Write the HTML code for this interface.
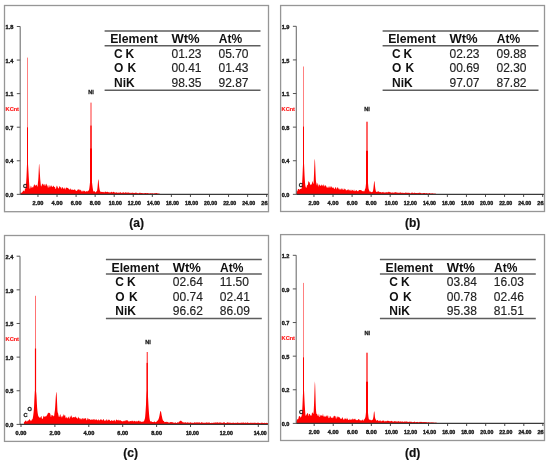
<!DOCTYPE html><html><head><meta charset="utf-8"><title>EDS spectra</title><style>
html,body{margin:0;padding:0;background:#fff;width:550px;height:465px;overflow:hidden}
svg{display:block}
.tl{font-family:'Liberation Sans',sans-serif;font-weight:bold;font-size:5.6px;fill:#222;stroke:#222;stroke-width:0.4px}
.pl{font-family:'Liberation Sans',sans-serif;font-weight:bold;font-size:5.6px;fill:#222;stroke:#222;stroke-width:0.3px}
.th{font-family:'Liberation Sans',sans-serif;font-weight:bold;font-size:12px;fill:#111}
.td{font-family:'Liberation Sans',sans-serif;font-weight:normal;font-size:12px;fill:#222;stroke:#222;stroke-width:0.15px}
.cap{font-family:'Liberation Sans',sans-serif;font-weight:bold;font-size:12px;fill:#111;stroke:#111;stroke-width:0.2px}
</style></head><body>
<svg width="550" height="465" viewBox="0 0 550 465">
<rect width="550" height="465" fill="#fff"/>
<clipPath id="clipa"><rect x="4.5" y="5.5" width="264.0" height="206.2"/></clipPath>
<g clip-path="url(#clipa)">
<path d="M20.20,194.35 L20.20,193.20 L20.45,192.94 L20.70,192.76 L20.95,192.65 L21.20,192.70 L21.45,192.81 L21.70,192.65 L21.95,192.41 L22.20,192.18 L22.45,191.96 L22.70,191.60 L22.95,191.18 L23.20,190.78 L23.45,190.37 L23.70,190.63 L23.95,191.14 L24.20,191.24 L24.45,191.20 L24.70,190.30 L24.95,189.05 L25.20,188.82 L25.45,188.57 L25.70,186.94 L25.95,184.14 L26.20,181.31 L26.45,177.60 L26.70,171.62 L26.95,165.27 L27.20,160.30 L27.45,157.66 L27.70,158.91 L27.95,163.08 L28.20,167.29 L28.45,171.53 L28.70,176.34 L28.95,180.28 L29.20,184.21 L29.45,187.42 L29.70,188.57 L29.95,188.94 L30.20,188.26 L30.45,187.24 L30.70,186.36 L30.95,185.49 L31.20,186.17 L31.45,187.25 L31.70,187.69 L31.95,187.98 L32.20,187.47 L32.45,186.73 L32.70,187.08 L32.95,187.76 L33.20,187.34 L33.45,186.59 L33.70,185.76 L33.95,184.88 L34.20,184.52 L34.45,184.29 L34.70,184.80 L34.95,185.49 L35.20,185.59 L35.45,185.55 L35.70,185.52 L35.95,185.49 L36.20,185.09 L36.45,184.60 L36.70,185.03 L36.95,185.62 L37.20,186.34 L37.45,186.97 L37.70,185.22 L37.95,182.50 L38.20,180.47 L38.45,177.00 L38.70,171.07 L38.95,165.18 L39.20,163.60 L39.45,167.04 L39.70,171.21 L39.95,174.96 L40.20,178.88 L40.45,181.40 L40.70,183.95 L40.95,186.27 L41.20,186.47 L41.45,186.09 L41.70,185.29 L41.95,184.37 L42.20,184.22 L42.45,184.27 L42.70,183.83 L42.95,183.26 L43.20,184.19 L43.45,185.48 L43.70,184.92 L43.95,183.89 L44.20,184.04 L44.45,184.47 L44.70,185.32 L44.95,186.26 L45.20,185.91 L45.45,185.24 L45.70,184.55 L45.95,183.86 L46.20,183.83 L46.45,183.95 L46.70,184.67 L46.95,185.53 L47.20,185.56 L47.45,185.39 L47.70,186.45 L47.95,187.80 L48.20,187.69 L48.45,187.23 L48.70,186.12 L48.95,184.85 L49.20,185.35 L49.45,186.28 L49.70,186.94 L49.95,187.52 L50.20,186.97 L50.45,186.15 L50.70,185.73 L50.95,185.42 L51.20,185.44 L51.45,185.55 L51.70,186.13 L51.95,186.84 L52.20,186.89 L52.45,186.78 L52.70,186.67 L52.95,186.55 L53.20,186.09 L53.45,185.54 L53.70,185.91 L53.95,186.50 L54.20,186.86 L54.45,187.17 L54.70,187.10 L54.95,186.93 L55.20,187.70 L55.45,188.70 L55.70,188.90 L55.95,188.90 L56.20,187.86 L56.45,186.56 L56.70,185.90 L56.95,185.39 L57.20,185.96 L57.45,186.78 L57.70,187.30 L57.95,187.73 L58.20,188.20 L58.45,188.67 L58.70,188.29 L58.95,187.70 L59.20,186.90 L59.45,186.05 L59.70,186.25 L59.95,186.69 L60.20,187.16 L60.45,187.63 L60.70,187.30 L60.95,186.78 L61.20,187.61 L61.45,188.77 L61.70,188.64 L61.95,188.19 L62.20,187.52 L62.45,186.80 L62.70,187.19 L62.95,187.87 L63.20,188.19 L63.45,188.42 L63.70,188.74 L63.95,189.09 L64.20,188.80 L64.45,188.37 L64.70,187.77 L64.95,187.13 L65.20,188.27 L65.45,189.85 L65.70,189.17 L65.95,187.95 L66.20,187.69 L66.45,187.66 L66.70,187.60 L66.95,187.53 L67.20,187.73 L67.45,187.99 L67.70,187.98 L67.95,187.91 L68.20,188.29 L68.45,188.77 L68.70,188.84 L68.95,188.81 L69.20,189.00 L69.45,189.24 L69.70,189.75 L69.95,190.32 L70.20,189.51 L70.45,188.37 L70.70,188.52 L70.95,188.99 L71.20,189.53 L71.45,190.08 L71.70,189.87 L71.95,189.49 L72.20,189.46 L72.45,189.52 L72.70,189.70 L72.95,189.91 L73.20,189.99 L73.45,190.03 L73.70,189.87 L73.95,189.65 L74.20,189.55 L74.45,189.48 L74.70,189.50 L74.95,189.56 L75.20,189.74 L75.45,189.96 L75.70,190.45 L75.95,191.00 L76.20,190.93 L76.45,190.70 L76.70,190.73 L76.95,190.81 L77.20,190.45 L77.45,189.99 L77.70,189.66 L77.95,189.36 L78.20,189.38 L78.45,189.49 L78.70,189.53 L78.95,189.56 L79.20,189.57 L79.45,189.58 L79.70,190.11 L79.95,190.77 L80.20,190.39 L80.45,189.77 L80.70,189.82 L80.95,190.03 L81.20,190.61 L81.45,191.27 L81.70,191.47 L81.95,191.56 L82.20,191.59 L82.45,191.62 L82.70,191.01 L82.95,190.27 L83.20,190.56 L83.45,191.10 L83.70,191.34 L83.95,191.51 L84.20,191.14 L84.45,190.65 L84.70,190.79 L84.95,191.10 L85.20,191.38 L85.45,191.66 L85.70,191.66 L85.95,191.59 L86.20,191.30 L86.45,190.96 L86.70,191.18 L86.95,191.54 L87.20,191.54 L87.45,191.45 L87.70,191.10 L87.95,190.68 L88.20,190.72 L88.45,190.79 L88.70,190.59 L88.95,190.07 L89.20,188.91 L89.45,187.14 L89.70,185.19 L89.95,182.83 L90.20,179.66 L90.45,176.54 L90.70,174.38 L90.95,173.42 L91.20,174.00 L91.45,175.89 L91.70,178.58 L91.95,181.65 L92.20,184.06 L92.45,185.89 L92.70,187.93 L92.95,189.58 L93.20,190.67 L93.45,191.40 L93.70,191.45 L93.95,191.26 L94.20,191.12 L94.45,190.99 L94.70,191.49 L94.95,192.14 L95.20,192.28 L95.45,192.28 L95.70,192.20 L95.95,192.07 L96.20,191.65 L96.45,191.12 L96.70,191.19 L96.95,191.22 L97.20,190.11 L97.45,188.04 L97.70,185.37 L97.95,182.26 L98.20,179.83 L98.45,179.27 L98.70,181.02 L98.95,184.21 L99.20,186.88 L99.45,188.61 L99.70,189.95 L99.95,190.75 L100.20,191.25 L100.45,191.61 L100.70,191.91 L100.95,192.17 L101.20,192.01 L101.45,191.74 L101.70,191.84 L101.95,192.02 L102.20,191.97 L102.45,191.86 L102.70,191.98 L102.95,192.16 L103.20,192.04 L103.45,191.84 L103.70,192.11 L103.95,192.50 L104.20,192.45 L104.45,192.30 L104.70,191.93 L104.95,191.50 L105.20,191.47 L105.45,191.54 L105.70,191.86 L105.95,192.23 L106.20,192.03 L106.45,191.69 L106.70,191.91 L106.95,192.26 L107.20,192.02 L107.45,191.64 L107.70,191.67 L107.95,191.80 L108.20,192.00 L108.45,192.21 L108.70,192.34 L108.95,192.45 L109.20,192.59 L109.45,192.75 L109.70,192.36 L109.95,191.85 L110.20,192.16 L110.45,192.67 L110.70,192.40 L110.95,191.95 L111.20,191.80 L111.45,191.72 L111.70,191.90 L111.95,192.14 L112.20,192.38 L112.45,192.62 L112.70,192.35 L112.95,191.96 L113.20,191.84 L113.45,191.79 L113.70,191.92 L113.95,192.08 L114.20,192.21 L114.45,192.32 L114.70,192.41 L114.95,192.49 L115.20,192.53 L115.45,192.56 L115.70,192.63 L115.95,192.71 L116.20,192.53 L116.45,192.29 L116.70,192.35 L116.95,192.49 L117.20,192.62 L117.45,192.76 L117.70,192.83 L117.95,192.88 L118.20,192.67 L118.45,192.38 L118.70,192.49 L118.95,192.68 L119.20,192.65 L119.45,192.55 L119.70,192.61 L119.95,192.71 L120.20,192.51 L120.45,192.24 L120.70,192.19 L120.95,192.18 L121.20,192.53 L121.45,192.98 L121.70,192.99 L121.95,192.91 L122.20,192.85 L122.45,192.79 L122.70,192.53 L122.95,192.22 L123.20,192.24 L123.45,192.35 L123.70,192.54 L123.95,192.76 L124.20,192.86 L124.45,192.92 L124.70,192.76 L124.95,192.55 L125.20,192.46 L125.45,192.39 L125.70,192.34 L125.95,192.31 L126.20,192.52 L126.45,192.80 L126.70,192.66 L126.95,192.42 L127.20,192.45 L127.45,192.55 L127.70,192.65 L127.95,192.74 L128.20,192.59 L128.45,192.37 L128.70,192.60 L128.95,192.94 L129.20,192.84 L129.45,192.63 L129.70,192.82 L129.95,193.10 L130.20,193.13 L130.45,193.10 L130.70,192.85 L130.95,192.54 L131.20,192.72 L131.45,193.02 L131.70,192.90 L131.95,192.68 L132.20,192.69 L132.45,192.76 L132.70,192.70 L132.95,192.61 L133.20,192.75 L133.45,192.96 L133.70,193.01 L133.95,193.03 L134.20,193.05 L134.45,193.08 L134.70,192.90 L134.95,192.68 L135.20,192.72 L135.45,192.83 L135.70,192.75 L135.95,192.62 L136.20,192.62 L136.45,192.65 L136.70,192.90 L136.95,193.20 L137.20,193.13 L137.45,192.98 L137.70,193.09 L137.95,193.26 L138.20,193.32 L138.45,193.35 L138.70,193.35 L138.95,193.34 L139.20,193.11 L139.45,192.83 L139.70,192.80 L139.95,192.83 L140.20,192.83 L140.45,192.82 L140.70,192.97 L140.95,193.15 L141.20,193.11 L141.45,193.01 L141.70,192.95 L141.95,192.89 L142.20,193.00 L142.45,193.15 L142.70,193.13 L142.95,193.06 L143.20,193.15 L143.45,193.28 L143.70,193.34 L143.95,193.40 L144.20,193.36 L144.45,193.30 L144.70,193.12 L144.95,192.91 L145.20,192.96 L145.45,193.08 L145.70,193.00 L145.95,192.89 L146.20,192.99 L146.45,193.15 L146.70,193.24 L146.95,193.30 L147.20,193.18 L147.45,193.02 L147.70,192.98 L147.95,192.97 L148.20,193.19 L148.45,193.45 L148.70,193.34 L148.95,193.13 L149.20,193.24 L149.45,193.43 L149.70,193.47 L149.95,193.46 L150.20,193.27 L150.45,193.03 L150.70,193.20 L150.95,193.47 L151.20,193.47 L151.45,193.41 L151.70,193.22 L151.95,192.99 L152.20,193.09 L152.45,193.27 L152.70,193.38 L152.95,193.48 L153.20,193.49 L153.45,193.48 L153.70,193.46 L153.95,193.44 L154.20,193.32 L154.45,193.18 L154.70,193.30 L154.95,193.50 L155.20,193.35 L155.45,193.11 L155.70,193.20 L155.95,193.36 L156.20,193.25 L156.45,193.09 L156.70,193.07 L156.95,193.10 L157.20,193.24 L157.45,193.42 L157.70,193.47 L157.95,193.49 L158.20,193.47 L158.45,193.46 L158.70,193.57 L158.95,193.70 L159.20,193.67 L159.45,193.60 L159.70,193.72 L159.95,193.88 L160.20,194.09 L160.45,194.31 L160.50,194.35 Z" fill="#ff0000" stroke="none"/>
<rect x="27.25" y="57.60" width="0.50" height="136.75" fill="#ff0000"/>
<rect x="27.00" y="127.34" width="1.00" height="67.01" fill="#ff0000"/>
<rect x="90.60" y="102.60" width="0.80" height="91.75" fill="#ff0000"/>
<rect x="90.40" y="125.54" width="1.20" height="68.81" fill="#ff0000"/>
<rect x="90.00" y="148.47" width="2.00" height="45.88" fill="#ff0000"/>
<path d="M20.2,26.5 V194.35" fill="none" stroke="#707070" stroke-width="1.1"/>
<path d="M20.2,194.35 H268.5" fill="none" stroke="#3a3a3a" stroke-width="1.1"/>
<line x1="16.8" y1="26.50" x2="20.2" y2="26.50" stroke="#555" stroke-width="1"/>
<text x="5.6" y="29.20" class="tl">1.8</text>
<line x1="16.8" y1="60.07" x2="20.2" y2="60.07" stroke="#555" stroke-width="1"/>
<text x="5.6" y="62.77" class="tl">1.4</text>
<line x1="16.8" y1="93.64" x2="20.2" y2="93.64" stroke="#555" stroke-width="1"/>
<text x="5.6" y="96.34" class="tl">1.1</text>
<line x1="16.8" y1="127.21" x2="20.2" y2="127.21" stroke="#555" stroke-width="1"/>
<text x="5.6" y="129.91" class="tl">0.7</text>
<line x1="16.8" y1="160.78" x2="20.2" y2="160.78" stroke="#555" stroke-width="1"/>
<text x="5.6" y="163.48" class="tl">0.4</text>
<line x1="16.8" y1="194.35" x2="20.2" y2="194.35" stroke="#555" stroke-width="1"/>
<text x="5.6" y="197.05" class="tl">0.0</text>
<line x1="37.96" y1="194.35" x2="37.96" y2="196.95" stroke="#333" stroke-width="0.9"/>
<text x="32.56" y="205.35" class="tl">2.00</text>
<line x1="57.02" y1="194.35" x2="57.02" y2="196.95" stroke="#333" stroke-width="0.9"/>
<text x="51.62" y="205.35" class="tl">4.00</text>
<line x1="76.08" y1="194.35" x2="76.08" y2="196.95" stroke="#333" stroke-width="0.9"/>
<text x="70.68" y="205.35" class="tl">6.00</text>
<line x1="95.14" y1="194.35" x2="95.14" y2="196.95" stroke="#333" stroke-width="0.9"/>
<text x="89.74" y="205.35" class="tl">8.00</text>
<line x1="114.20" y1="194.35" x2="114.20" y2="196.95" stroke="#333" stroke-width="0.9"/>
<text x="108.80" y="205.35" class="tl" textLength="13" lengthAdjust="spacingAndGlyphs">10.00</text>
<line x1="133.26" y1="194.35" x2="133.26" y2="196.95" stroke="#333" stroke-width="0.9"/>
<text x="127.86" y="205.35" class="tl" textLength="13" lengthAdjust="spacingAndGlyphs">12.00</text>
<line x1="152.32" y1="194.35" x2="152.32" y2="196.95" stroke="#333" stroke-width="0.9"/>
<text x="146.92" y="205.35" class="tl" textLength="13" lengthAdjust="spacingAndGlyphs">14.00</text>
<line x1="171.38" y1="194.35" x2="171.38" y2="196.95" stroke="#333" stroke-width="0.9"/>
<text x="165.98" y="205.35" class="tl" textLength="13" lengthAdjust="spacingAndGlyphs">16.00</text>
<line x1="190.44" y1="194.35" x2="190.44" y2="196.95" stroke="#333" stroke-width="0.9"/>
<text x="185.04" y="205.35" class="tl" textLength="13" lengthAdjust="spacingAndGlyphs">18.00</text>
<line x1="209.50" y1="194.35" x2="209.50" y2="196.95" stroke="#333" stroke-width="0.9"/>
<text x="204.10" y="205.35" class="tl" textLength="13" lengthAdjust="spacingAndGlyphs">20.00</text>
<line x1="228.56" y1="194.35" x2="228.56" y2="196.95" stroke="#333" stroke-width="0.9"/>
<text x="223.16" y="205.35" class="tl" textLength="13" lengthAdjust="spacingAndGlyphs">22.00</text>
<line x1="247.62" y1="194.35" x2="247.62" y2="196.95" stroke="#333" stroke-width="0.9"/>
<text x="242.22" y="205.35" class="tl" textLength="13" lengthAdjust="spacingAndGlyphs">24.00</text>
<line x1="266.68" y1="194.35" x2="266.68" y2="196.95" stroke="#333" stroke-width="0.9"/>
<text x="261.28" y="205.35" class="tl">26.</text>
<text x="5.6" y="110.8" class="tl" style="fill:#ff1a1a;stroke:#ff1a1a;stroke-width:0.2px">KCnt</text>
<text x="24.9" y="188.1" class="pl" text-anchor="middle">C</text>
<text x="91.1" y="94.3" class="pl" text-anchor="middle">Ni</text>
</g>
<rect x="4.5" y="5.5" width="264.0" height="206.2" fill="none" stroke="#969696" stroke-width="1.3"/>
<line x1="104.6" y1="31.10" x2="260.5" y2="31.10" stroke="#5e5e5e" stroke-width="1.5"/>
<line x1="104.6" y1="45.70" x2="260.5" y2="45.70" stroke="#5e5e5e" stroke-width="1.5"/>
<line x1="104.6" y1="90.15" x2="260.5" y2="90.15" stroke="#5e5e5e" stroke-width="1.5"/>
<text x="110.2" y="43.30" class="th" textLength="47.6" lengthAdjust="spacingAndGlyphs">Element</text>
<text x="171.4" y="43.30" class="th" textLength="28.2" lengthAdjust="spacingAndGlyphs">Wt%</text>
<text x="218.8" y="43.30" class="th">At%</text>
<text x="114.0" y="57.90" class="th">C</text><text x="125.6" y="57.90" class="th">K</text>
<text x="171.5" y="57.90" class="td">01.23</text>
<text x="218.5" y="57.90" class="td">05.70</text>
<text x="114.0" y="72.25" class="th">O</text><text x="127.6" y="72.25" class="th">K</text>
<text x="171.5" y="72.25" class="td">00.41</text>
<text x="218.5" y="72.25" class="td">01.43</text>
<text x="114.0" y="86.60" class="th">NiK</text>
<text x="171.5" y="86.60" class="td">98.35</text>
<text x="218.5" y="86.60" class="td">92.87</text>
<text x="136.6" y="227.0" class="cap" text-anchor="middle">(a)</text>
<clipPath id="clipb"><rect x="280.6" y="5.5" width="263.9" height="206.0"/></clipPath>
<g clip-path="url(#clipb)">
<path d="M296.30,194.35 L296.30,190.59 L296.55,190.37 L296.80,190.90 L297.05,191.38 L297.30,191.11 L297.55,190.70 L297.80,189.70 L298.05,188.90 L298.30,188.97 L298.55,189.04 L298.80,189.07 L299.05,189.18 L299.30,189.62 L299.55,189.89 L299.80,189.43 L300.05,189.04 L300.30,188.96 L300.55,188.88 L300.80,188.79 L301.05,188.72 L301.30,188.90 L301.55,188.48 L301.80,186.52 L302.05,183.63 L302.30,179.85 L302.55,174.89 L302.80,168.91 L303.05,163.38 L303.30,159.47 L303.55,158.08 L303.80,159.80 L304.05,163.80 L304.30,169.52 L304.55,175.18 L304.80,179.57 L305.05,182.82 L305.30,185.03 L305.55,186.40 L305.80,187.33 L306.05,187.85 L306.30,187.80 L306.55,187.45 L306.80,186.14 L307.05,185.05 L307.30,185.15 L307.55,185.16 L307.80,184.70 L308.05,183.95 L308.30,182.06 L308.55,180.64 L308.80,181.47 L309.05,182.15 L309.30,182.04 L309.55,182.16 L309.80,183.25 L310.05,184.27 L310.30,184.98 L310.55,185.35 L310.80,184.33 L311.05,183.69 L311.30,184.53 L311.55,184.97 L311.80,183.99 L312.05,182.97 L312.30,181.70 L312.55,180.93 L312.80,182.00 L313.05,182.97 L313.30,183.92 L313.55,183.58 L313.80,179.27 L314.05,173.26 L314.30,167.00 L314.55,160.98 L314.80,158.56 L315.05,161.43 L315.30,167.51 L315.55,174.01 L315.80,179.15 L316.05,181.99 L316.30,183.06 L316.55,183.75 L316.80,185.10 L317.05,185.82 L317.30,184.40 L317.55,183.25 L317.80,183.33 L318.05,183.77 L318.30,185.73 L318.55,187.01 L318.80,185.57 L319.05,184.43 L319.30,184.53 L319.55,184.73 L319.80,185.34 L320.05,185.81 L320.30,185.69 L320.55,185.62 L320.80,185.76 L321.05,185.68 L321.30,184.69 L321.55,184.13 L321.80,185.17 L322.05,185.86 L322.30,185.14 L322.55,184.80 L322.80,185.95 L323.05,186.62 L323.30,185.47 L323.55,184.55 L323.80,184.57 L324.05,184.79 L324.30,185.82 L324.55,186.59 L324.80,186.40 L325.05,186.11 L325.30,185.39 L325.55,184.91 L325.80,185.38 L326.05,185.86 L326.30,186.41 L326.55,186.97 L326.80,187.56 L327.05,188.00 L327.30,187.82 L327.55,187.53 L327.80,186.79 L328.05,186.44 L328.30,187.57 L328.55,188.17 L328.80,186.71 L329.05,185.82 L329.30,187.14 L329.55,187.94 L329.80,186.71 L330.05,185.98 L330.30,187.20 L330.55,187.92 L330.80,186.72 L331.05,185.86 L331.30,186.39 L331.55,186.89 L331.80,187.32 L332.05,187.66 L332.30,187.67 L332.55,187.64 L332.80,187.44 L333.05,187.31 L333.30,187.47 L333.55,187.70 L333.80,188.24 L334.05,188.70 L334.30,188.92 L334.55,189.00 L334.80,188.50 L335.05,187.97 L335.30,187.27 L335.55,186.83 L335.80,187.40 L336.05,188.04 L336.30,189.00 L336.55,189.52 L336.80,188.29 L337.05,187.36 L337.30,187.55 L337.55,187.65 L337.80,187.39 L338.05,187.42 L338.30,188.62 L338.55,189.39 L338.80,188.53 L339.05,188.07 L339.30,189.20 L339.55,189.90 L339.80,188.99 L340.05,188.40 L340.30,189.02 L340.55,189.53 L340.80,189.63 L341.05,189.52 L341.30,188.55 L341.55,188.03 L341.80,189.23 L342.05,190.05 L342.30,189.46 L342.55,188.89 L342.80,188.43 L343.05,188.26 L343.30,189.18 L343.55,189.93 L343.80,190.00 L344.05,189.87 L344.30,188.95 L344.55,188.35 L344.80,189.03 L345.05,189.49 L345.30,189.10 L345.55,188.99 L345.80,189.96 L346.05,190.65 L346.30,190.22 L346.55,189.93 L346.80,190.21 L347.05,190.30 L347.30,189.65 L347.55,189.30 L347.80,190.11 L348.05,190.52 L348.30,189.40 L348.55,188.76 L348.80,190.00 L349.05,190.80 L349.30,189.91 L349.55,189.40 L349.80,190.32 L350.05,191.00 L350.30,190.73 L350.55,190.37 L350.80,189.71 L351.05,189.35 L351.30,190.18 L351.55,190.83 L351.80,190.82 L352.05,190.69 L352.30,190.11 L352.55,189.72 L352.80,190.11 L353.05,190.50 L353.30,190.93 L353.55,191.05 L353.80,189.97 L354.05,189.32 L354.30,190.31 L354.55,191.12 L354.80,191.27 L355.05,191.32 L355.30,190.99 L355.55,190.67 L355.80,190.39 L356.05,190.14 L356.30,190.02 L356.55,190.06 L356.80,190.76 L357.05,191.28 L357.30,191.05 L357.55,190.93 L357.80,191.28 L358.05,191.46 L358.30,191.03 L358.55,190.63 L358.80,190.31 L359.05,190.07 L359.30,190.12 L359.55,190.12 L359.80,189.98 L360.05,189.89 L360.30,190.06 L360.55,190.18 L360.80,190.09 L361.05,190.05 L361.30,190.23 L361.55,190.42 L361.80,190.67 L362.05,190.92 L362.30,191.18 L362.55,191.31 L362.80,190.90 L363.05,190.64 L363.30,190.99 L363.55,191.30 L363.80,191.51 L364.05,191.58 L364.30,191.18 L364.55,190.66 L364.80,189.92 L365.05,189.12 L365.30,188.82 L365.55,187.83 L365.80,185.49 L366.05,182.95 L366.30,180.81 L366.55,178.94 L366.80,177.54 L367.05,177.21 L367.30,178.30 L367.55,180.06 L367.80,181.54 L368.05,183.45 L368.30,186.24 L368.55,188.43 L368.80,189.43 L369.05,190.09 L369.30,190.78 L369.55,191.27 L369.80,191.77 L370.05,192.03 L370.30,191.61 L370.55,191.34 L370.80,191.70 L371.05,192.00 L371.30,192.07 L371.55,192.13 L371.80,192.13 L372.05,192.09 L372.30,191.92 L372.55,191.71 L372.80,191.48 L373.05,190.83 L373.30,189.19 L373.55,186.88 L373.80,184.45 L374.05,182.22 L374.30,180.94 L374.55,181.59 L374.80,183.89 L375.05,186.47 L375.30,188.44 L375.55,189.76 L375.80,190.97 L376.05,191.70 L376.30,191.70 L376.55,191.69 L376.80,191.89 L377.05,191.99 L377.30,191.77 L377.55,191.58 L377.80,191.58 L378.05,191.55 L378.30,191.43 L378.55,191.36 L378.80,191.44 L379.05,191.57 L379.30,191.90 L379.55,192.15 L379.80,192.04 L380.05,191.95 L380.30,191.89 L380.55,191.91 L380.80,192.28 L381.05,192.58 L381.30,192.57 L381.55,192.51 L381.80,192.26 L382.05,192.11 L382.30,192.33 L382.55,192.41 L382.80,192.02 L383.05,191.77 L383.30,192.10 L383.55,192.38 L383.80,192.48 L384.05,192.56 L384.30,192.51 L384.55,192.48 L384.80,192.45 L385.05,192.44 L385.30,192.46 L385.55,192.44 L385.80,192.26 L386.05,192.13 L386.30,192.18 L386.55,192.24 L386.80,192.35 L387.05,192.39 L387.30,192.20 L387.55,192.11 L387.80,192.38 L388.05,192.51 L388.30,192.11 L388.55,191.80 L388.80,191.78 L389.05,191.80 L389.30,191.95 L389.55,192.10 L389.80,192.28 L390.05,192.42 L390.30,192.38 L390.55,192.34 L390.80,192.31 L391.05,192.35 L391.30,192.64 L391.55,192.84 L391.80,192.65 L392.05,192.48 L392.30,192.43 L392.55,192.42 L392.80,192.62 L393.05,192.78 L393.30,192.83 L393.55,192.80 L393.80,192.42 L394.05,192.18 L394.30,192.41 L394.55,192.59 L394.80,192.51 L395.05,192.41 L395.30,192.21 L395.55,192.08 L395.80,192.25 L396.05,192.42 L396.30,192.59 L396.55,192.66 L396.80,192.31 L397.05,192.09 L397.30,192.41 L397.55,192.70 L397.80,192.89 L398.05,192.97 L398.30,192.64 L398.55,192.44 L398.80,192.73 L399.05,192.95 L399.30,192.86 L399.55,192.73 L399.80,192.47 L400.05,192.28 L400.30,192.37 L400.55,192.51 L400.80,192.83 L401.05,193.05 L401.30,192.85 L401.55,192.69 L401.80,192.71 L402.05,192.73 L402.30,192.70 L402.55,192.70 L402.80,192.84 L403.05,192.91 L403.30,192.74 L403.55,192.65 L403.80,192.90 L404.05,193.08 L404.30,192.98 L404.55,192.90 L404.80,192.87 L405.05,192.79 L405.30,192.54 L405.55,192.42 L405.80,192.82 L406.05,193.07 L406.30,192.77 L406.55,192.59 L406.80,192.84 L407.05,193.01 L407.30,192.85 L407.55,192.74 L407.80,192.83 L408.05,192.89 L408.30,192.86 L408.55,192.82 L408.80,192.70 L409.05,192.64 L409.30,192.80 L409.55,192.95 L409.80,193.07 L410.05,193.17 L410.30,193.17 L410.55,193.18 L410.80,193.20 L411.05,193.16 L411.30,192.84 L411.55,192.62 L411.80,192.71 L412.05,192.76 L412.30,192.63 L412.55,192.56 L412.80,192.67 L413.05,192.82 L413.30,193.09 L413.55,193.26 L413.80,193.01 L414.05,192.81 L414.30,192.77 L414.55,192.74 L414.80,192.77 L415.05,192.81 L415.30,192.90 L415.55,192.99 L415.80,193.05 L416.05,193.09 L416.30,193.06 L416.55,193.01 L416.80,192.88 L417.05,192.83 L417.30,193.03 L417.55,193.17 L417.80,193.08 L418.05,193.02 L418.30,193.04 L418.55,193.03 L418.80,192.86 L419.05,192.74 L419.30,192.80 L419.55,192.84 L419.80,192.80 L420.05,192.78 L420.30,192.82 L420.55,192.89 L420.80,193.09 L421.05,193.25 L421.30,193.28 L421.55,193.28 L421.80,193.20 L422.05,193.15 L422.30,193.23 L422.55,193.29 L422.80,193.24 L423.05,193.18 L423.30,193.10 L423.55,193.02 L423.80,192.95 L424.05,192.91 L424.30,193.03 L424.55,193.11 L424.80,193.04 L425.05,193.03 L425.30,193.27 L425.55,193.45 L425.80,193.37 L426.05,193.27 L426.30,193.07 L426.55,192.97 L426.80,193.24 L427.05,193.44 L427.30,193.36 L427.55,193.32 L427.80,193.43 L428.05,193.52 L428.30,193.52 L428.55,193.47 L428.80,193.23 L429.05,193.04 L429.30,193.02 L429.55,193.03 L429.80,193.13 L430.05,193.25 L430.30,193.41 L430.55,193.52 L430.80,193.48 L431.05,193.45 L431.30,193.47 L431.55,193.47 L431.80,193.35 L432.05,193.26 L432.30,193.28 L432.55,193.32 L432.80,193.41 L433.05,193.48 L433.30,193.48 L433.55,193.51 L433.80,193.63 L434.05,193.71 L434.30,193.64 L434.55,193.57 L434.80,193.51 L435.05,193.49 L435.30,193.55 L435.55,193.64 L435.80,193.78 L436.05,193.92 L436.30,194.13 L436.50,194.35 Z" fill="#ff0000" stroke="none"/>
<rect x="303.25" y="66.50" width="0.50" height="127.85" fill="#ff0000"/>
<rect x="303.00" y="126.59" width="1.00" height="67.76" fill="#ff0000"/>
<rect x="366.40" y="121.70" width="1.20" height="72.65" fill="#ff0000"/>
<rect x="366.00" y="150.76" width="2.00" height="43.59" fill="#ff0000"/>
<path d="M296.3,26.3 V194.35" fill="none" stroke="#707070" stroke-width="1.1"/>
<path d="M296.3,194.35 H544.5" fill="none" stroke="#3a3a3a" stroke-width="1.1"/>
<line x1="292.90000000000003" y1="26.30" x2="296.3" y2="26.30" stroke="#555" stroke-width="1"/>
<text x="281.70000000000005" y="29.00" class="tl">1.9</text>
<line x1="292.90000000000003" y1="59.91" x2="296.3" y2="59.91" stroke="#555" stroke-width="1"/>
<text x="281.70000000000005" y="62.61" class="tl">1.5</text>
<line x1="292.90000000000003" y1="93.52" x2="296.3" y2="93.52" stroke="#555" stroke-width="1"/>
<text x="281.70000000000005" y="96.22" class="tl">1.1</text>
<line x1="292.90000000000003" y1="127.13" x2="296.3" y2="127.13" stroke="#555" stroke-width="1"/>
<text x="281.70000000000005" y="129.83" class="tl">0.8</text>
<line x1="292.90000000000003" y1="160.74" x2="296.3" y2="160.74" stroke="#555" stroke-width="1"/>
<text x="281.70000000000005" y="163.44" class="tl">0.4</text>
<line x1="292.90000000000003" y1="194.35" x2="296.3" y2="194.35" stroke="#555" stroke-width="1"/>
<text x="281.70000000000005" y="197.05" class="tl">0.0</text>
<line x1="313.96" y1="194.35" x2="313.96" y2="196.95" stroke="#333" stroke-width="0.9"/>
<text x="308.56" y="205.35" class="tl">2.00</text>
<line x1="333.02" y1="194.35" x2="333.02" y2="196.95" stroke="#333" stroke-width="0.9"/>
<text x="327.62" y="205.35" class="tl">4.00</text>
<line x1="352.08" y1="194.35" x2="352.08" y2="196.95" stroke="#333" stroke-width="0.9"/>
<text x="346.68" y="205.35" class="tl">6.00</text>
<line x1="371.14" y1="194.35" x2="371.14" y2="196.95" stroke="#333" stroke-width="0.9"/>
<text x="365.74" y="205.35" class="tl">8.00</text>
<line x1="390.20" y1="194.35" x2="390.20" y2="196.95" stroke="#333" stroke-width="0.9"/>
<text x="384.80" y="205.35" class="tl" textLength="13" lengthAdjust="spacingAndGlyphs">10.00</text>
<line x1="409.26" y1="194.35" x2="409.26" y2="196.95" stroke="#333" stroke-width="0.9"/>
<text x="403.86" y="205.35" class="tl" textLength="13" lengthAdjust="spacingAndGlyphs">12.00</text>
<line x1="428.32" y1="194.35" x2="428.32" y2="196.95" stroke="#333" stroke-width="0.9"/>
<text x="422.92" y="205.35" class="tl" textLength="13" lengthAdjust="spacingAndGlyphs">14.00</text>
<line x1="447.38" y1="194.35" x2="447.38" y2="196.95" stroke="#333" stroke-width="0.9"/>
<text x="441.98" y="205.35" class="tl" textLength="13" lengthAdjust="spacingAndGlyphs">16.00</text>
<line x1="466.44" y1="194.35" x2="466.44" y2="196.95" stroke="#333" stroke-width="0.9"/>
<text x="461.04" y="205.35" class="tl" textLength="13" lengthAdjust="spacingAndGlyphs">18.00</text>
<line x1="485.50" y1="194.35" x2="485.50" y2="196.95" stroke="#333" stroke-width="0.9"/>
<text x="480.10" y="205.35" class="tl" textLength="13" lengthAdjust="spacingAndGlyphs">20.00</text>
<line x1="504.56" y1="194.35" x2="504.56" y2="196.95" stroke="#333" stroke-width="0.9"/>
<text x="499.16" y="205.35" class="tl" textLength="13" lengthAdjust="spacingAndGlyphs">22.00</text>
<line x1="523.62" y1="194.35" x2="523.62" y2="196.95" stroke="#333" stroke-width="0.9"/>
<text x="518.22" y="205.35" class="tl" textLength="13" lengthAdjust="spacingAndGlyphs">24.00</text>
<line x1="542.68" y1="194.35" x2="542.68" y2="196.95" stroke="#333" stroke-width="0.9"/>
<text x="537.28" y="205.35" class="tl">26.</text>
<text x="281.6" y="110.8" class="tl" style="fill:#ff1a1a;stroke:#ff1a1a;stroke-width:0.2px">KCnt</text>
<text x="300.7" y="187.1" class="pl" text-anchor="middle">C</text>
<text x="367.1" y="111.1" class="pl" text-anchor="middle">Ni</text>
</g>
<rect x="280.6" y="5.5" width="263.9" height="206.0" fill="none" stroke="#969696" stroke-width="1.3"/>
<line x1="382.6" y1="31.10" x2="538.5" y2="31.10" stroke="#5e5e5e" stroke-width="1.5"/>
<line x1="382.6" y1="45.70" x2="538.5" y2="45.70" stroke="#5e5e5e" stroke-width="1.5"/>
<line x1="382.6" y1="90.15" x2="538.5" y2="90.15" stroke="#5e5e5e" stroke-width="1.5"/>
<text x="388.2" y="43.30" class="th" textLength="47.6" lengthAdjust="spacingAndGlyphs">Element</text>
<text x="449.4" y="43.30" class="th" textLength="28.2" lengthAdjust="spacingAndGlyphs">Wt%</text>
<text x="496.8" y="43.30" class="th">At%</text>
<text x="392.0" y="57.90" class="th">C</text><text x="403.6" y="57.90" class="th">K</text>
<text x="449.5" y="57.90" class="td">02.23</text>
<text x="496.5" y="57.90" class="td">09.88</text>
<text x="392.0" y="72.25" class="th">O</text><text x="405.6" y="72.25" class="th">K</text>
<text x="449.5" y="72.25" class="td">00.69</text>
<text x="496.5" y="72.25" class="td">02.30</text>
<text x="392.0" y="86.60" class="th">NiK</text>
<text x="449.5" y="86.60" class="td">97.07</text>
<text x="496.5" y="86.60" class="td">87.82</text>
<text x="412.6" y="227.0" class="cap" text-anchor="middle">(b)</text>
<clipPath id="clipc"><rect x="4.5" y="235.5" width="264.0" height="205.89999999999998"/></clipPath>
<g clip-path="url(#clipc)">
<path d="M23.90,424.40 L23.90,422.32 L24.15,422.13 L24.40,422.02 L24.65,421.70 L24.90,421.17 L25.15,420.70 L25.40,420.38 L25.65,420.53 L25.90,421.08 L26.15,421.48 L26.40,421.66 L26.65,421.28 L26.90,420.46 L27.15,420.49 L27.40,421.10 L27.65,421.36 L27.90,421.39 L28.15,420.94 L28.40,420.16 L28.65,420.00 L28.90,420.17 L29.15,419.76 L29.40,419.12 L29.65,419.12 L29.90,419.70 L30.15,420.11 L30.40,420.25 L30.65,420.63 L30.90,421.15 L31.15,421.04 L31.40,420.48 L31.65,420.00 L31.90,419.55 L32.15,419.39 L32.40,419.37 L32.65,418.74 L32.90,417.50 L33.15,415.99 L33.40,414.04 L33.65,411.82 L33.90,409.21 L34.15,404.94 L34.40,399.55 L34.65,394.90 L34.90,391.23 L35.15,388.68 L35.40,387.60 L35.65,388.13 L35.90,390.24 L36.15,392.67 L36.40,395.28 L36.65,399.42 L36.90,404.27 L37.15,408.07 L37.40,410.79 L37.65,412.87 L37.90,414.30 L38.15,415.49 L38.40,416.47 L38.65,416.75 L38.90,416.58 L39.15,417.06 L39.40,417.99 L39.65,417.90 L39.90,417.12 L40.15,417.15 L40.40,417.74 L40.65,417.39 L40.90,416.40 L41.15,416.02 L41.40,416.05 L41.65,416.93 L41.90,418.39 L42.15,418.90 L42.40,418.78 L42.65,418.60 L42.90,418.39 L43.15,417.35 L43.40,415.75 L43.65,415.71 L43.90,416.75 L44.15,416.85 L44.40,416.29 L44.65,416.41 L44.90,417.00 L45.15,416.89 L45.40,416.28 L45.65,416.12 L45.90,416.27 L46.15,416.31 L46.40,416.27 L46.65,415.82 L46.90,415.09 L47.15,414.71 L47.40,414.57 L47.65,413.91 L47.90,412.89 L48.15,412.74 L48.40,413.19 L48.65,413.09 L48.90,412.62 L49.15,412.69 L49.40,413.10 L49.65,413.18 L49.90,413.06 L50.15,413.63 L50.40,414.62 L50.65,415.85 L50.90,417.20 L51.15,416.87 L51.40,415.48 L51.65,414.93 L51.90,414.91 L52.15,414.97 L52.40,415.06 L52.65,415.47 L52.90,416.10 L53.15,416.08 L53.40,415.61 L53.65,415.90 L53.90,416.63 L54.15,415.76 L54.40,413.62 L54.65,411.99 L54.90,410.18 L55.15,407.25 L55.40,403.32 L55.65,399.00 L55.90,395.49 L56.15,392.73 L56.40,391.79 L56.65,394.11 L56.90,398.37 L57.15,404.12 L57.40,410.01 L57.65,412.61 L57.90,412.71 L58.15,413.58 L58.40,415.04 L58.65,416.09 L58.90,416.91 L59.15,417.09 L59.40,416.85 L59.65,416.09 L59.90,414.98 L60.15,414.42 L60.40,414.24 L60.65,415.37 L60.90,417.36 L61.15,417.36 L61.40,416.06 L61.65,416.36 L61.90,417.71 L62.15,417.32 L62.40,415.80 L62.65,415.75 L62.90,416.66 L63.15,416.29 L63.40,415.08 L63.65,414.48 L63.90,414.29 L64.15,414.88 L64.40,415.97 L64.65,415.77 L64.90,414.71 L65.15,415.22 L65.40,416.77 L65.65,417.71 L65.90,418.24 L66.15,417.79 L66.40,416.68 L66.65,417.00 L66.90,418.25 L67.15,418.54 L67.40,418.21 L67.65,417.83 L67.90,417.41 L68.15,417.00 L68.40,416.60 L68.65,417.04 L68.90,418.01 L69.15,418.56 L69.40,418.81 L69.65,417.91 L69.90,416.24 L70.15,416.28 L70.40,417.44 L70.65,417.14 L70.90,415.86 L71.15,415.46 L71.40,415.62 L71.65,416.32 L71.90,417.39 L72.15,417.73 L72.40,417.59 L72.65,417.49 L72.90,417.40 L73.15,417.24 L73.40,417.03 L73.65,417.02 L73.90,417.15 L74.15,417.26 L74.40,417.36 L74.65,417.35 L74.90,417.26 L75.15,416.89 L75.40,416.32 L75.65,416.60 L75.90,417.44 L76.15,417.87 L76.40,418.04 L76.65,417.80 L76.90,417.30 L77.15,417.64 L77.40,418.54 L77.65,418.84 L77.90,418.75 L78.15,418.00 L78.40,416.82 L78.65,416.86 L78.90,417.69 L79.15,418.01 L79.40,417.99 L79.65,418.56 L79.90,419.52 L80.15,419.49 L80.40,418.81 L80.65,418.39 L80.90,418.13 L81.15,418.61 L81.40,419.59 L81.65,419.38 L81.90,418.40 L82.15,418.01 L82.40,418.01 L82.65,418.60 L82.90,419.57 L83.15,419.40 L83.40,418.49 L83.65,418.31 L83.90,418.59 L84.15,418.52 L84.40,418.20 L84.65,418.40 L84.90,418.95 L85.15,418.85 L85.40,418.31 L85.65,418.08 L85.90,418.06 L86.15,418.74 L86.40,419.88 L86.65,420.31 L86.90,420.27 L87.15,419.70 L87.40,418.78 L87.65,418.17 L87.90,417.76 L88.15,418.26 L88.40,419.36 L88.65,419.62 L88.90,419.34 L89.15,419.12 L89.40,418.95 L89.65,419.13 L89.90,419.56 L90.15,419.69 L90.40,419.64 L90.65,419.67 L90.90,419.76 L91.15,419.75 L91.40,419.68 L91.65,419.47 L91.90,419.16 L92.15,419.30 L92.40,419.73 L92.65,419.85 L92.90,419.75 L93.15,419.39 L93.40,418.84 L93.65,419.26 L93.90,420.32 L94.15,420.29 L94.40,419.55 L94.65,419.13 L94.90,418.91 L95.15,419.19 L95.40,419.79 L95.65,420.10 L95.90,420.23 L96.15,419.82 L96.40,419.04 L96.65,419.20 L96.90,419.98 L97.15,420.34 L97.40,420.42 L97.65,420.26 L97.90,419.94 L98.15,419.61 L98.40,419.28 L98.65,419.62 L98.90,420.43 L99.15,420.58 L99.40,420.30 L99.65,420.19 L99.90,420.18 L100.15,419.80 L100.40,419.17 L100.65,419.23 L100.90,419.75 L101.15,419.65 L101.40,419.13 L101.65,419.46 L101.90,420.35 L102.15,420.58 L102.40,420.38 L102.65,420.07 L102.90,419.69 L103.15,419.37 L103.40,419.09 L103.65,419.32 L103.90,419.87 L104.15,420.27 L104.40,420.56 L104.65,420.76 L104.90,420.90 L105.15,420.66 L105.40,420.17 L105.65,420.24 L105.90,420.66 L106.15,420.39 L106.40,419.66 L106.65,419.36 L106.90,419.34 L107.15,419.80 L107.40,420.60 L107.65,420.85 L107.90,420.75 L108.15,420.35 L108.40,419.74 L108.65,419.62 L108.90,419.83 L109.15,419.81 L109.40,419.63 L109.65,419.89 L109.90,420.44 L110.15,420.81 L110.40,421.06 L110.65,421.06 L110.90,420.88 L111.15,420.48 L111.40,419.92 L111.65,420.06 L111.90,420.66 L112.15,420.85 L112.40,420.77 L112.65,420.70 L112.90,420.63 L113.15,420.61 L113.40,420.62 L113.65,420.63 L113.90,420.65 L114.15,420.33 L114.40,419.78 L114.65,420.07 L114.90,420.91 L115.15,421.36 L115.40,421.53 L115.65,420.99 L115.90,419.98 L116.15,419.63 L116.40,419.71 L116.65,419.68 L116.90,419.58 L117.15,419.90 L117.40,420.50 L117.65,420.42 L117.90,419.88 L118.15,419.69 L118.40,419.73 L118.65,420.19 L118.90,420.94 L119.15,420.92 L119.40,420.38 L119.65,420.12 L119.90,420.04 L120.15,420.12 L120.40,420.31 L120.65,420.48 L120.90,420.64 L121.15,420.85 L121.40,421.09 L121.65,421.16 L121.90,421.12 L122.15,421.18 L122.40,421.30 L122.65,421.45 L122.90,421.62 L123.15,421.38 L123.40,420.87 L123.65,420.85 L123.90,421.16 L124.15,420.98 L124.40,420.47 L124.65,420.73 L124.90,421.49 L125.15,421.29 L125.40,420.46 L125.65,420.26 L125.90,420.48 L126.15,420.44 L126.40,420.23 L126.65,420.17 L126.90,420.21 L127.15,420.23 L127.40,420.24 L127.65,420.43 L127.90,420.75 L128.15,421.20 L128.40,421.74 L128.65,421.55 L128.90,420.87 L129.15,420.93 L129.40,421.47 L129.65,421.62 L129.90,421.51 L130.15,421.27 L130.40,420.95 L130.65,420.90 L130.90,421.03 L131.15,421.15 L131.40,421.26 L131.65,421.02 L131.90,420.55 L132.15,420.55 L132.40,420.85 L132.65,421.12 L132.90,421.37 L133.15,421.53 L133.40,421.61 L133.65,421.33 L133.90,420.79 L134.15,420.79 L134.40,421.14 L134.65,421.12 L134.90,420.86 L135.15,420.98 L135.40,421.37 L135.65,421.61 L135.90,421.75 L136.15,421.64 L136.40,421.35 L136.65,421.09 L136.90,420.86 L137.15,421.10 L137.40,421.67 L137.65,421.57 L137.90,421.05 L138.15,420.78 L138.40,420.68 L138.65,420.70 L138.90,420.81 L139.15,420.85 L139.40,420.84 L139.65,421.26 L139.90,421.95 L140.15,421.92 L140.40,421.40 L140.65,421.08 L140.90,420.89 L141.15,421.22 L141.40,421.91 L141.65,422.07 L141.90,421.89 L142.15,421.82 L142.40,421.83 L142.65,421.70 L142.90,421.48 L143.15,421.43 L143.40,421.48 L143.65,421.40 L143.90,421.18 L144.15,420.69 L144.40,419.88 L144.65,419.24 L144.90,418.46 L145.15,416.65 L145.40,413.86 L145.65,410.34 L145.90,406.23 L146.15,401.83 L146.40,397.57 L146.65,393.92 L146.90,391.38 L147.15,389.83 L147.40,389.60 L147.65,391.42 L147.90,394.82 L148.15,399.33 L148.40,404.33 L148.65,408.61 L148.90,412.01 L149.15,415.02 L149.40,417.49 L149.65,419.20 L149.90,420.31 L150.15,421.00 L150.40,421.39 L150.65,421.47 L150.90,421.37 L151.15,421.37 L151.40,421.45 L151.65,421.59 L151.90,421.78 L152.15,421.94 L152.40,422.07 L152.65,422.06 L152.90,421.96 L153.15,422.02 L153.40,422.18 L153.65,422.05 L153.90,421.72 L154.15,421.52 L154.40,421.40 L154.65,421.50 L154.90,421.75 L155.15,421.98 L155.40,422.19 L155.65,422.21 L155.90,422.10 L156.15,421.94 L156.40,421.73 L156.65,421.48 L156.90,421.19 L157.15,420.90 L157.40,420.59 L157.65,420.49 L157.90,420.51 L158.15,420.08 L158.40,419.30 L158.65,418.63 L158.90,417.93 L159.15,417.02 L159.40,415.90 L159.65,414.58 L159.90,413.25 L160.15,412.05 L160.40,411.22 L160.65,410.93 L160.90,411.22 L161.15,412.24 L161.40,413.74 L161.65,415.13 L161.90,416.32 L162.15,417.54 L162.40,418.68 L162.65,419.59 L162.90,420.32 L163.15,420.70 L163.40,420.85 L163.65,420.98 L163.90,421.10 L164.15,421.49 L164.40,422.05 L164.65,422.20 L164.90,422.06 L165.15,422.05 L165.40,422.11 L165.65,421.99 L165.90,421.74 L166.15,421.64 L166.40,421.64 L166.65,421.86 L166.90,422.22 L167.15,422.19 L167.40,421.89 L167.65,421.82 L167.90,421.90 L168.15,422.13 L168.40,422.46 L168.65,422.53 L168.90,422.42 L169.15,422.51 L169.40,422.72 L169.65,422.57 L169.90,422.20 L170.15,422.10 L170.40,422.19 L170.65,422.15 L170.90,422.02 L171.15,422.01 L171.40,422.06 L171.65,422.13 L171.90,422.20 L172.15,422.21 L172.40,422.17 L172.65,422.21 L172.90,422.31 L173.15,422.50 L173.40,422.76 L173.65,422.70 L173.90,422.44 L174.15,422.52 L174.40,422.85 L174.65,422.93 L174.90,422.86 L175.15,422.62 L175.40,422.27 L175.65,422.38 L175.90,422.78 L176.15,422.92 L176.40,422.90 L176.65,422.88 L176.90,422.87 L177.15,422.60 L177.40,422.15 L177.65,422.18 L177.90,422.51 L178.15,422.64 L178.40,422.62 L178.65,422.26 L178.90,421.66 L179.15,421.54 L179.40,421.75 L179.65,421.50 L179.90,420.95 L180.15,420.74 L180.40,420.78 L180.65,420.77 L180.90,420.75 L181.15,420.80 L181.40,420.90 L181.65,421.18 L181.90,421.57 L182.15,421.75 L182.40,421.79 L182.65,422.11 L182.90,422.62 L183.15,422.62 L183.40,422.28 L183.65,422.24 L183.90,422.40 L184.15,422.40 L184.40,422.30 L184.65,422.46 L184.90,422.79 L185.15,422.71 L185.40,422.37 L185.65,422.18 L185.90,422.08 L186.15,422.32 L186.40,422.79 L186.65,422.89 L186.90,422.75 L187.15,422.62 L187.40,422.50 L187.65,422.37 L187.90,422.23 L188.15,422.36 L188.40,422.67 L188.65,422.81 L188.90,422.85 L189.15,422.84 L189.40,422.81 L189.65,422.68 L189.90,422.49 L190.15,422.37 L190.40,422.30 L190.65,422.39 L190.90,422.58 L191.15,422.66 L191.40,422.68 L191.65,422.67 L191.90,422.66 L192.15,422.67 L192.40,422.69 L192.65,422.68 L192.90,422.65 L193.15,422.74 L193.40,422.92 L193.65,422.86 L193.90,422.64 L194.15,422.41 L194.40,422.17 L194.65,422.25 L194.90,422.54 L195.15,422.55 L195.40,422.38 L195.65,422.50 L195.90,422.80 L196.15,422.76 L196.40,422.49 L196.65,422.36 L196.90,422.33 L197.15,422.35 L197.40,422.39 L197.65,422.46 L197.90,422.54 L198.15,422.58 L198.40,422.60 L198.65,422.56 L198.90,422.48 L199.15,422.37 L199.40,422.25 L199.65,422.42 L199.90,422.80 L200.15,422.97 L200.40,423.00 L200.65,422.81 L200.90,422.49 L201.15,422.30 L201.40,422.22 L201.65,422.31 L201.90,422.51 L202.15,422.61 L202.40,422.65 L202.65,422.59 L202.90,422.45 L203.15,422.55 L203.40,422.82 L203.65,422.91 L203.90,422.87 L204.15,422.87 L204.40,422.91 L204.65,422.80 L204.90,422.61 L205.15,422.62 L205.40,422.75 L205.65,422.83 L205.90,422.88 L206.15,422.76 L206.40,422.53 L206.65,422.36 L206.90,422.23 L207.15,422.38 L207.40,422.70 L207.65,422.71 L207.90,422.51 L208.15,422.52 L208.40,422.66 L208.65,422.59 L208.90,422.38 L209.15,422.37 L209.40,422.50 L209.65,422.65 L209.90,422.81 L210.15,422.89 L210.40,422.91 L210.65,422.98 L210.90,423.08 L211.15,422.98 L211.40,422.76 L211.65,422.70 L211.90,422.75 L212.15,422.83 L212.40,422.93 L212.65,422.92 L212.90,422.83 L213.15,422.80 L213.40,422.82 L213.65,422.70 L213.90,422.48 L214.15,422.58 L214.40,422.89 L214.65,422.76 L214.90,422.35 L215.15,422.34 L215.40,422.59 L215.65,422.65 L215.90,422.60 L216.15,422.61 L216.40,422.68 L216.65,422.60 L216.90,422.42 L217.15,422.36 L217.40,422.36 L217.65,422.44 L217.90,422.57 L218.15,422.65 L218.40,422.68 L218.65,422.63 L218.90,422.52 L219.15,422.43 L219.40,422.37 L219.65,422.48 L219.90,422.70 L220.15,422.69 L220.40,422.53 L220.65,422.40 L220.90,422.29 L221.15,422.39 L221.40,422.63 L221.65,422.79 L221.90,422.91 L222.15,422.95 L222.40,422.95 L222.65,422.81 L222.90,422.59 L223.15,422.51 L223.40,422.53 L223.65,422.46 L223.90,422.32 L224.15,422.30 L224.40,422.35 L224.65,422.55 L224.90,422.84 L225.15,422.97 L225.40,422.99 L225.65,422.99 L225.90,422.95 L226.15,422.96 L226.40,423.00 L226.65,422.87 L226.90,422.62 L227.15,422.48 L227.40,422.41 L227.65,422.37 L227.90,422.35 L228.15,422.53 L228.40,422.83 L228.65,422.78 L228.90,422.50 L229.15,422.54 L229.40,422.80 L229.65,422.87 L229.90,422.82 L230.15,422.72 L230.40,422.58 L230.65,422.70 L230.90,423.00 L231.15,423.12 L231.40,423.12 L231.65,422.91 L231.90,422.57 L232.15,422.58 L232.40,422.83 L232.65,422.92 L232.90,422.89 L233.15,422.82 L233.40,422.71 L233.65,422.65 L233.90,422.60 L234.15,422.77 L234.40,423.08 L234.65,423.12 L234.90,422.97 L235.15,422.88 L235.40,422.83 L235.65,422.80 L235.90,422.78 L236.15,422.85 L236.40,422.98 L236.65,422.92 L236.90,422.75 L237.15,422.58 L237.40,422.41 L237.65,422.50 L237.90,422.76 L238.15,422.82 L238.40,422.76 L238.65,422.85 L238.90,423.04 L239.15,423.08 L239.40,423.01 L239.65,422.87 L239.90,422.70 L240.15,422.78 L240.40,423.03 L240.65,422.92 L240.90,422.57 L241.15,422.42 L241.40,422.41 L241.65,422.63 L241.90,423.00 L242.15,422.92 L242.40,422.54 L242.65,422.54 L242.90,422.80 L243.15,422.79 L243.40,422.62 L243.65,422.55 L243.90,422.56 L244.15,422.69 L244.40,422.90 L244.65,422.88 L244.90,422.71 L245.15,422.65 L245.40,422.66 L245.65,422.62 L245.90,422.55 L246.15,422.67 L246.40,422.92 L246.65,422.88 L246.90,422.67 L247.15,422.52 L247.40,422.43 L247.65,422.47 L247.90,422.60 L248.15,422.69 L248.40,422.76 L248.65,422.89 L248.90,423.08 L249.15,423.06 L249.40,422.89 L249.65,422.86 L249.90,422.92 L250.15,422.85 L250.40,422.69 L250.65,422.64 L250.90,422.66 L251.15,422.70 L251.40,422.75 L251.65,422.87 L251.90,423.04 L252.15,422.99 L252.40,422.78 L252.65,422.71 L252.90,422.71 L253.15,422.84 L253.40,423.04 L253.65,422.93 L253.90,422.62 L254.15,422.56 L254.40,422.66 L254.65,422.84 L254.90,423.08 L255.15,422.96 L255.40,422.61 L255.65,422.67 L255.90,423.02 L256.15,423.11 L256.40,423.03 L256.65,422.89 L256.90,422.73 L257.15,422.69 L257.40,422.75 L257.65,422.78 L257.90,422.80 L258.15,422.78 L258.40,422.74 L258.65,422.78 L258.90,422.86 L259.15,422.93 L259.40,423.00 L259.65,423.06 L259.90,423.12 L260.15,423.17 L260.40,423.22 L260.65,423.07 L260.90,422.79 L261.15,422.67 L261.40,422.66 L261.65,422.71 L261.90,422.80 L262.15,422.78 L262.40,422.70 L262.65,422.77 L262.90,422.93 L263.15,423.02 L263.40,423.06 L263.65,423.05 L263.90,423.00 L264.15,422.86 L264.40,422.65 L264.65,422.78 L264.90,423.13 L265.15,423.16 L265.40,422.96 L265.65,422.95 L265.90,423.06 L266.15,422.97 L266.40,422.75 L266.65,422.77 L266.90,422.95 L267.15,423.02 L267.40,423.03 L267.65,423.02 L267.90,422.99 L268.15,422.94 L268.40,422.89 L268.50,424.40 Z" fill="#ff0000" stroke="none"/>
<rect x="35.23" y="295.80" width="0.55" height="128.60" fill="#ff0000"/>
<rect x="34.90" y="348.53" width="1.20" height="75.87" fill="#ff0000"/>
<rect x="146.75" y="352.00" width="0.90" height="72.40" fill="#ff0000"/>
<rect x="146.55" y="362.86" width="1.30" height="61.54" fill="#ff0000"/>
<path d="M20.0,256.2 V424.4" fill="none" stroke="#707070" stroke-width="1.1"/>
<path d="M20.0,424.4 H268.5" fill="none" stroke="#3a3a3a" stroke-width="1.1"/>
<line x1="16.6" y1="256.20" x2="20.0" y2="256.20" stroke="#555" stroke-width="1"/>
<text x="5.6" y="258.90" class="tl">2.4</text>
<line x1="16.6" y1="289.84" x2="20.0" y2="289.84" stroke="#555" stroke-width="1"/>
<text x="5.6" y="292.54" class="tl">1.9</text>
<line x1="16.6" y1="323.48" x2="20.0" y2="323.48" stroke="#555" stroke-width="1"/>
<text x="5.6" y="326.18" class="tl">1.5</text>
<line x1="16.6" y1="357.12" x2="20.0" y2="357.12" stroke="#555" stroke-width="1"/>
<text x="5.6" y="359.82" class="tl">1.0</text>
<line x1="16.6" y1="390.76" x2="20.0" y2="390.76" stroke="#555" stroke-width="1"/>
<text x="5.6" y="393.46" class="tl">0.5</text>
<line x1="16.6" y1="424.40" x2="20.0" y2="424.40" stroke="#555" stroke-width="1"/>
<text x="5.6" y="427.10" class="tl">0.0</text>
<line x1="21.00" y1="424.4" x2="21.00" y2="427.0" stroke="#333" stroke-width="0.9"/>
<text x="15.60" y="435.40" class="tl">0.00</text>
<line x1="54.90" y1="424.4" x2="54.90" y2="427.0" stroke="#333" stroke-width="0.9"/>
<text x="49.50" y="435.40" class="tl">2.00</text>
<line x1="88.80" y1="424.4" x2="88.80" y2="427.0" stroke="#333" stroke-width="0.9"/>
<text x="83.40" y="435.40" class="tl">4.00</text>
<line x1="122.70" y1="424.4" x2="122.70" y2="427.0" stroke="#333" stroke-width="0.9"/>
<text x="117.30" y="435.40" class="tl">6.00</text>
<line x1="156.60" y1="424.4" x2="156.60" y2="427.0" stroke="#333" stroke-width="0.9"/>
<text x="151.20" y="435.40" class="tl">8.00</text>
<line x1="190.50" y1="424.4" x2="190.50" y2="427.0" stroke="#333" stroke-width="0.9"/>
<text x="185.90" y="435.40" class="tl" textLength="13" lengthAdjust="spacingAndGlyphs">10.00</text>
<line x1="224.40" y1="424.4" x2="224.40" y2="427.0" stroke="#333" stroke-width="0.9"/>
<text x="219.80" y="435.40" class="tl" textLength="13" lengthAdjust="spacingAndGlyphs">12.00</text>
<line x1="258.30" y1="424.4" x2="258.30" y2="427.0" stroke="#333" stroke-width="0.9"/>
<text x="253.70" y="435.40" class="tl" textLength="13" lengthAdjust="spacingAndGlyphs">14.00</text>
<text x="5.6" y="340.5" class="tl" style="fill:#ff1a1a;stroke:#ff1a1a;stroke-width:0.2px">KCnt</text>
<text x="25.4" y="417.2" class="pl" text-anchor="middle">C</text>
<text x="29.6" y="411.0" class="pl" text-anchor="middle">O</text>
<text x="148.0" y="344.0" class="pl" text-anchor="middle">Ni</text>
</g>
<rect x="4.5" y="235.5" width="264.0" height="205.89999999999998" fill="none" stroke="#969696" stroke-width="1.3"/>
<line x1="105.9" y1="259.40" x2="261.8" y2="259.40" stroke="#5e5e5e" stroke-width="1.5"/>
<line x1="105.9" y1="274.00" x2="261.8" y2="274.00" stroke="#5e5e5e" stroke-width="1.5"/>
<line x1="105.9" y1="318.45" x2="261.8" y2="318.45" stroke="#5e5e5e" stroke-width="1.5"/>
<text x="111.5" y="271.60" class="th" textLength="47.6" lengthAdjust="spacingAndGlyphs">Element</text>
<text x="172.7" y="271.60" class="th" textLength="28.2" lengthAdjust="spacingAndGlyphs">Wt%</text>
<text x="220.1" y="271.60" class="th">At%</text>
<text x="115.3" y="286.20" class="th">C</text><text x="126.9" y="286.20" class="th">K</text>
<text x="172.8" y="286.20" class="td">02.64</text>
<text x="219.8" y="286.20" class="td">11.50</text>
<text x="115.3" y="300.55" class="th">O</text><text x="128.9" y="300.55" class="th">K</text>
<text x="172.8" y="300.55" class="td">00.74</text>
<text x="219.8" y="300.55" class="td">02.41</text>
<text x="115.3" y="314.90" class="th">NiK</text>
<text x="172.8" y="314.90" class="td">96.62</text>
<text x="219.8" y="314.90" class="td">86.09</text>
<text x="130.6" y="457.2" class="cap" text-anchor="middle">(c)</text>
<clipPath id="clipd"><rect x="280.6" y="234.6" width="263.9" height="205.9"/></clipPath>
<g clip-path="url(#clipd)">
<path d="M296.20,423.40 L296.20,420.93 L296.45,420.74 L296.70,420.22 L296.95,419.56 L297.20,419.37 L297.45,419.36 L297.70,419.37 L297.95,419.38 L298.20,418.89 L298.45,418.24 L298.70,417.33 L298.95,416.33 L299.20,416.13 L299.45,416.15 L299.70,416.07 L299.95,415.95 L300.20,416.72 L300.45,417.69 L300.70,417.39 L300.95,416.69 L301.20,416.66 L301.45,416.49 L301.70,415.48 L301.95,413.46 L302.20,410.10 L302.45,405.46 L302.70,399.70 L302.95,393.90 L303.20,388.34 L303.45,384.79 L303.70,385.38 L303.95,388.90 L304.20,393.98 L304.45,399.52 L304.70,404.47 L304.95,408.28 L305.20,411.96 L305.45,414.89 L305.70,415.76 L305.95,415.86 L306.20,415.35 L306.45,414.63 L306.70,414.26 L306.95,413.97 L307.20,413.63 L307.45,413.28 L307.70,413.12 L307.95,412.99 L308.20,414.46 L308.45,416.34 L308.70,415.67 L308.95,414.34 L309.20,413.91 L309.45,413.69 L309.70,413.93 L309.95,414.30 L310.20,415.04 L310.45,415.88 L310.70,415.46 L310.95,414.74 L311.20,415.37 L311.45,416.33 L311.70,414.84 L311.95,412.73 L312.20,412.41 L312.45,412.51 L312.70,413.04 L312.95,413.60 L313.20,413.86 L313.45,413.72 L313.70,410.98 L313.95,405.90 L314.20,399.82 L314.45,392.04 L314.70,384.16 L314.95,381.34 L315.20,385.90 L315.45,394.45 L315.70,403.15 L315.95,409.25 L316.20,412.30 L316.45,413.75 L316.70,414.03 L316.95,413.92 L317.20,414.36 L317.45,414.90 L317.70,415.58 L317.95,416.28 L318.20,416.16 L318.45,415.83 L318.70,414.81 L318.95,413.60 L319.20,414.84 L319.45,416.69 L319.70,417.06 L319.95,417.06 L320.20,415.99 L320.45,414.67 L320.70,415.10 L320.95,415.95 L321.20,415.69 L321.45,415.15 L321.70,415.20 L321.95,415.39 L322.20,415.70 L322.45,416.04 L322.70,414.97 L322.95,413.58 L323.20,414.76 L323.45,416.57 L323.70,416.59 L323.95,416.16 L324.20,416.47 L324.45,416.97 L324.70,416.37 L324.95,415.51 L325.20,415.97 L325.45,416.75 L325.70,416.80 L325.95,416.67 L326.20,416.03 L326.45,415.27 L326.70,415.84 L326.95,416.74 L327.20,416.57 L327.45,416.13 L327.70,415.52 L327.95,414.88 L328.20,416.05 L328.45,417.66 L328.70,418.07 L328.95,418.17 L329.20,417.96 L329.45,417.67 L329.70,416.82 L329.95,415.84 L330.20,415.91 L330.45,416.23 L330.70,416.89 L330.95,417.62 L331.20,417.66 L331.45,417.52 L331.70,417.74 L331.95,418.05 L332.20,417.73 L332.45,417.26 L332.70,417.79 L332.95,418.56 L333.20,417.82 L333.45,416.71 L333.70,416.24 L333.95,415.95 L334.20,415.84 L334.45,415.79 L334.70,416.11 L334.95,416.53 L335.20,416.33 L335.45,415.99 L335.70,417.19 L335.95,418.78 L336.20,418.75 L336.45,418.33 L336.70,417.37 L336.95,416.30 L337.20,416.36 L337.45,416.70 L337.70,417.26 L337.95,417.86 L338.20,417.33 L338.45,416.51 L338.70,416.78 L338.95,417.32 L339.20,417.20 L339.45,416.92 L339.70,417.54 L339.95,418.37 L340.20,418.68 L340.45,418.86 L340.70,418.60 L340.95,418.24 L341.20,418.56 L341.45,419.04 L341.70,418.86 L341.95,418.52 L342.20,417.78 L342.45,416.96 L342.70,417.56 L342.95,418.50 L343.20,419.08 L343.45,419.57 L343.70,419.64 L343.95,419.61 L344.20,419.47 L344.45,419.32 L344.70,418.61 L344.95,417.77 L345.20,418.10 L345.45,418.71 L345.70,418.93 L345.95,419.05 L346.20,419.30 L346.45,419.59 L346.70,418.70 L346.95,417.54 L347.20,417.93 L347.45,418.70 L347.70,419.10 L347.95,419.41 L348.20,419.64 L348.45,419.85 L348.70,419.92 L348.95,419.94 L349.20,419.84 L349.45,419.72 L349.70,419.19 L349.95,418.58 L350.20,419.01 L350.45,419.69 L350.70,419.95 L350.95,420.10 L351.20,419.70 L351.45,419.18 L351.70,419.33 L351.95,419.64 L352.20,419.00 L352.45,418.14 L352.70,418.82 L352.95,419.88 L353.20,419.72 L353.45,419.27 L353.70,418.98 L353.95,418.72 L354.20,419.03 L354.45,419.47 L354.70,419.05 L354.95,418.43 L355.20,418.78 L355.45,419.37 L355.70,419.70 L355.95,419.98 L356.20,419.90 L356.45,419.73 L356.70,420.03 L356.95,420.45 L357.20,420.21 L357.45,419.82 L357.70,419.90 L357.95,420.10 L358.20,419.60 L358.45,418.94 L358.70,418.88 L358.95,418.96 L359.20,419.27 L359.45,419.63 L359.70,420.10 L359.95,420.60 L360.20,420.52 L360.45,420.31 L360.70,420.29 L360.95,420.31 L361.20,420.36 L361.45,420.41 L361.70,420.41 L361.95,420.40 L362.20,419.91 L362.45,419.30 L362.70,419.76 L362.95,420.48 L363.20,420.71 L363.45,420.80 L363.70,420.15 L363.95,419.30 L364.20,419.37 L364.45,419.59 L364.70,419.07 L364.95,418.18 L365.20,417.71 L365.45,416.99 L365.70,414.99 L365.95,412.40 L366.20,410.17 L366.45,408.22 L366.70,406.56 L366.95,405.72 L367.20,406.07 L367.45,407.43 L367.70,409.65 L367.95,412.21 L368.20,414.81 L368.45,417.11 L368.70,418.58 L368.95,419.51 L369.20,419.68 L369.45,419.50 L369.70,419.57 L369.95,419.66 L370.20,419.70 L370.45,419.70 L370.70,420.11 L370.95,420.61 L371.20,420.49 L371.45,420.23 L371.70,420.07 L371.95,419.92 L372.20,419.94 L372.45,419.95 L372.70,419.61 L372.95,418.92 L373.20,417.99 L373.45,416.43 L373.70,414.11 L373.95,411.99 L374.20,411.13 L374.45,411.95 L374.70,414.25 L374.95,416.88 L375.20,418.35 L375.45,418.95 L375.70,419.40 L375.95,419.65 L376.20,420.33 L376.45,421.09 L376.70,420.72 L376.95,420.07 L377.20,419.97 L377.45,419.99 L377.70,420.19 L377.95,420.42 L378.20,420.85 L378.45,421.32 L378.70,420.92 L378.95,420.29 L379.20,420.63 L379.45,421.21 L379.70,420.84 L379.95,420.24 L380.20,420.30 L380.45,420.53 L380.70,420.94 L380.95,421.38 L381.20,421.42 L381.45,421.35 L381.70,421.07 L381.95,420.75 L382.20,420.73 L382.45,420.79 L382.70,420.71 L382.95,420.60 L383.20,420.49 L383.45,420.37 L383.70,420.75 L383.95,421.25 L384.20,421.47 L384.45,421.62 L384.70,421.16 L384.95,420.55 L385.20,420.93 L385.45,421.55 L385.70,421.22 L385.95,420.65 L386.20,420.95 L386.45,421.46 L386.70,421.21 L386.95,420.77 L387.20,420.70 L387.45,420.73 L387.70,420.70 L387.95,420.65 L388.20,420.81 L388.45,421.03 L388.70,420.92 L388.95,420.72 L389.20,421.03 L389.45,421.46 L389.70,421.32 L389.95,421.04 L390.20,421.16 L390.45,421.38 L390.70,421.15 L390.95,420.82 L391.20,420.82 L391.45,420.90 L391.70,421.07 L391.95,421.26 L392.20,421.27 L392.45,421.25 L392.70,421.49 L392.95,421.79 L393.20,421.85 L393.45,421.85 L393.70,421.59 L393.95,421.27 L394.20,421.27 L394.45,421.33 L394.70,421.18 L394.95,420.97 L395.20,421.06 L395.45,421.21 L395.70,421.46 L395.95,421.73 L396.20,421.69 L396.45,421.57 L396.70,421.37 L396.95,421.16 L397.20,421.23 L397.45,421.37 L397.70,421.63 L397.95,421.92 L398.20,421.62 L398.45,421.18 L398.70,421.10 L398.95,421.11 L399.20,421.44 L399.45,421.85 L399.70,421.74 L399.95,421.50 L400.20,421.53 L400.45,421.62 L400.70,421.48 L400.95,421.27 L401.20,421.43 L401.45,421.69 L401.70,421.78 L401.95,421.83 L402.20,421.74 L402.45,421.61 L402.70,421.40 L402.95,421.16 L403.20,421.48 L403.45,421.92 L403.70,422.01 L403.95,422.01 L404.20,421.81 L404.45,421.56 L404.70,421.42 L404.95,421.30 L405.20,421.43 L405.45,421.62 L405.70,421.69 L405.95,421.73 L406.20,421.59 L406.45,421.39 L406.70,421.39 L406.95,421.44 L407.20,421.72 L407.45,422.06 L407.70,421.83 L407.95,421.46 L408.20,421.65 L408.45,421.97 L408.70,422.00 L408.95,421.96 L409.20,421.76 L409.45,421.53 L409.70,421.64 L409.95,421.83 L410.20,421.74 L410.45,421.58 L410.70,421.78 L410.95,422.06 L411.20,421.88 L411.45,421.57 L411.70,421.76 L411.95,422.07 L412.20,422.15 L412.45,422.17 L412.70,422.06 L412.95,421.91 L413.20,421.94 L413.45,422.02 L413.70,421.97 L413.95,421.89 L414.20,421.76 L414.45,421.62 L414.70,421.66 L414.95,421.75 L415.20,422.00 L415.45,422.29 L415.70,422.26 L415.95,422.14 L416.20,422.05 L416.45,421.96 L416.70,421.97 L416.95,422.00 L417.20,421.93 L417.45,421.85 L417.70,421.91 L417.95,422.01 L418.20,422.16 L418.45,422.32 L418.70,422.31 L418.95,422.25 L419.20,422.06 L419.45,421.84 L419.70,421.95 L419.95,422.14 L420.20,422.06 L420.45,421.92 L420.70,421.83 L420.95,421.76 L421.20,421.86 L421.45,422.00 L421.70,422.01 L421.95,422.00 L422.20,422.03 L422.45,422.06 L422.70,422.15 L422.95,422.26 L423.20,422.12 L423.45,421.92 L423.70,422.01 L423.95,422.17 L424.20,422.09 L424.45,421.95 L424.70,422.09 L424.95,422.30 L425.20,422.19 L425.45,422.02 L425.70,422.01 L425.95,422.04 L426.20,422.10 L426.45,422.16 L426.70,422.23 L426.95,422.29 L427.20,422.38 L427.45,422.48 L427.70,422.35 L427.95,422.16 L428.20,422.23 L428.45,422.36 L428.70,422.32 L428.95,422.24 L429.20,422.35 L429.45,422.52 L429.70,422.57 L429.95,422.59 L430.20,422.58 L430.45,422.57 L430.70,422.42 L430.95,422.23 L431.20,422.35 L431.45,422.53 L431.70,422.41 L431.95,422.21 L432.20,422.31 L432.45,422.48 L432.70,422.48 L432.95,422.45 L433.20,422.50 L433.45,422.58 L433.70,422.56 L433.95,422.51 L434.20,422.62 L434.45,422.76 L434.70,422.74 L434.95,422.69 L435.20,422.61 L435.45,422.52 L435.70,422.64 L435.95,422.81 L436.20,422.78 L436.45,422.72 L436.70,422.77 L436.95,422.84 L437.20,423.04 L437.45,423.27 L437.60,423.40 Z" fill="#ff0000" stroke="none"/>
<rect x="303.25" y="282.90" width="0.50" height="140.50" fill="#ff0000"/>
<rect x="303.00" y="357.37" width="1.00" height="66.03" fill="#ff0000"/>
<rect x="366.40" y="352.70" width="1.20" height="70.70" fill="#ff0000"/>
<rect x="366.00" y="381.69" width="2.00" height="41.71" fill="#ff0000"/>
<path d="M296.2,255.3 V423.4" fill="none" stroke="#707070" stroke-width="1.1"/>
<path d="M296.2,423.4 H544.5" fill="none" stroke="#3a3a3a" stroke-width="1.1"/>
<line x1="292.8" y1="255.30" x2="296.2" y2="255.30" stroke="#555" stroke-width="1"/>
<text x="281.70000000000005" y="258.00" class="tl">1.2</text>
<line x1="292.8" y1="288.92" x2="296.2" y2="288.92" stroke="#555" stroke-width="1"/>
<text x="281.70000000000005" y="291.62" class="tl">0.9</text>
<line x1="292.8" y1="322.54" x2="296.2" y2="322.54" stroke="#555" stroke-width="1"/>
<text x="281.70000000000005" y="325.24" class="tl">0.7</text>
<line x1="292.8" y1="356.16" x2="296.2" y2="356.16" stroke="#555" stroke-width="1"/>
<text x="281.70000000000005" y="358.86" class="tl">0.5</text>
<line x1="292.8" y1="389.78" x2="296.2" y2="389.78" stroke="#555" stroke-width="1"/>
<text x="281.70000000000005" y="392.48" class="tl">0.2</text>
<line x1="292.8" y1="423.40" x2="296.2" y2="423.40" stroke="#555" stroke-width="1"/>
<text x="281.70000000000005" y="426.10" class="tl">0.0</text>
<line x1="314.16" y1="423.4" x2="314.16" y2="426.0" stroke="#333" stroke-width="0.9"/>
<text x="308.76" y="434.40" class="tl">2.00</text>
<line x1="333.22" y1="423.4" x2="333.22" y2="426.0" stroke="#333" stroke-width="0.9"/>
<text x="327.82" y="434.40" class="tl">4.00</text>
<line x1="352.28" y1="423.4" x2="352.28" y2="426.0" stroke="#333" stroke-width="0.9"/>
<text x="346.88" y="434.40" class="tl">6.00</text>
<line x1="371.34" y1="423.4" x2="371.34" y2="426.0" stroke="#333" stroke-width="0.9"/>
<text x="365.94" y="434.40" class="tl">8.00</text>
<line x1="390.40" y1="423.4" x2="390.40" y2="426.0" stroke="#333" stroke-width="0.9"/>
<text x="385.00" y="434.40" class="tl" textLength="13" lengthAdjust="spacingAndGlyphs">10.00</text>
<line x1="409.46" y1="423.4" x2="409.46" y2="426.0" stroke="#333" stroke-width="0.9"/>
<text x="404.06" y="434.40" class="tl" textLength="13" lengthAdjust="spacingAndGlyphs">12.00</text>
<line x1="428.52" y1="423.4" x2="428.52" y2="426.0" stroke="#333" stroke-width="0.9"/>
<text x="423.12" y="434.40" class="tl" textLength="13" lengthAdjust="spacingAndGlyphs">14.00</text>
<line x1="447.58" y1="423.4" x2="447.58" y2="426.0" stroke="#333" stroke-width="0.9"/>
<text x="442.18" y="434.40" class="tl" textLength="13" lengthAdjust="spacingAndGlyphs">16.00</text>
<line x1="466.64" y1="423.4" x2="466.64" y2="426.0" stroke="#333" stroke-width="0.9"/>
<text x="461.24" y="434.40" class="tl" textLength="13" lengthAdjust="spacingAndGlyphs">18.00</text>
<line x1="485.70" y1="423.4" x2="485.70" y2="426.0" stroke="#333" stroke-width="0.9"/>
<text x="480.30" y="434.40" class="tl" textLength="13" lengthAdjust="spacingAndGlyphs">20.00</text>
<line x1="504.76" y1="423.4" x2="504.76" y2="426.0" stroke="#333" stroke-width="0.9"/>
<text x="499.36" y="434.40" class="tl" textLength="13" lengthAdjust="spacingAndGlyphs">22.00</text>
<line x1="523.82" y1="423.4" x2="523.82" y2="426.0" stroke="#333" stroke-width="0.9"/>
<text x="518.42" y="434.40" class="tl" textLength="13" lengthAdjust="spacingAndGlyphs">24.00</text>
<line x1="542.88" y1="423.4" x2="542.88" y2="426.0" stroke="#333" stroke-width="0.9"/>
<text x="537.48" y="434.40" class="tl">26.</text>
<text x="281.6" y="339.6" class="tl" style="fill:#ff1a1a;stroke:#ff1a1a;stroke-width:0.2px">KCnt</text>
<text x="300.9" y="414.0" class="pl" text-anchor="middle">C</text>
<text x="367.2" y="335.4" class="pl" text-anchor="middle">Ni</text>
</g>
<rect x="280.6" y="234.6" width="263.9" height="205.9" fill="none" stroke="#969696" stroke-width="1.3"/>
<line x1="379.9" y1="259.50" x2="535.8" y2="259.50" stroke="#5e5e5e" stroke-width="1.5"/>
<line x1="379.9" y1="274.10" x2="535.8" y2="274.10" stroke="#5e5e5e" stroke-width="1.5"/>
<line x1="379.9" y1="318.55" x2="535.8" y2="318.55" stroke="#5e5e5e" stroke-width="1.5"/>
<text x="385.5" y="271.70" class="th" textLength="47.6" lengthAdjust="spacingAndGlyphs">Element</text>
<text x="446.7" y="271.70" class="th" textLength="28.2" lengthAdjust="spacingAndGlyphs">Wt%</text>
<text x="494.1" y="271.70" class="th">At%</text>
<text x="389.3" y="286.30" class="th">C</text><text x="400.9" y="286.30" class="th">K</text>
<text x="446.8" y="286.30" class="td">03.84</text>
<text x="493.8" y="286.30" class="td">16.03</text>
<text x="389.3" y="300.65" class="th">O</text><text x="402.9" y="300.65" class="th">K</text>
<text x="446.8" y="300.65" class="td">00.78</text>
<text x="493.8" y="300.65" class="td">02.46</text>
<text x="389.3" y="315.00" class="th">NiK</text>
<text x="446.8" y="315.00" class="td">95.38</text>
<text x="493.8" y="315.00" class="td">81.51</text>
<text x="412.6" y="457.2" class="cap" text-anchor="middle">(d)</text>
</svg></body></html>
